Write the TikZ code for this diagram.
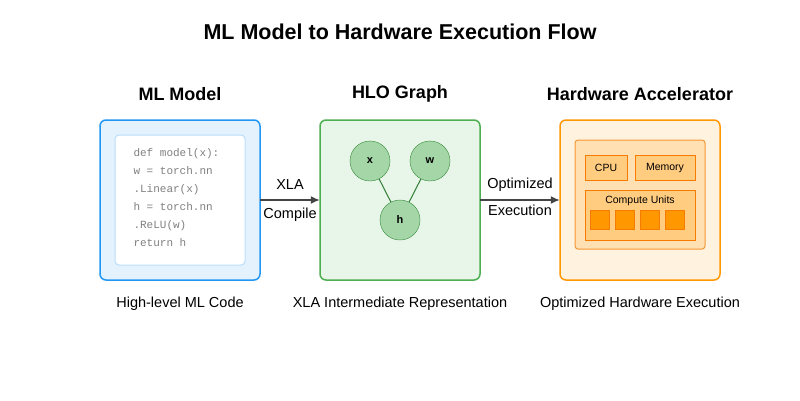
\documentclass[tikz,border=0pt]{standalone}
\usepackage{fontspec}
\setmainfont{Liberation Sans}
\newfontfamily\codefont{Liberation Mono}
\usetikzlibrary{arrows.meta}
\definecolor{bblue}{HTML}{2196F3}\definecolor{lblue}{HTML}{E3F2FD}\definecolor{mblue}{HTML}{BBDEFB}
\definecolor{bgreen}{HTML}{4CAF50}\definecolor{lgreen}{HTML}{E8F5E9}\definecolor{cgreen}{HTML}{A5D6A7}\definecolor{dgreen}{HTML}{2E7D32}
\definecolor{borange}{HTML}{FF9800}\definecolor{lorange}{HTML}{FFF3E0}\definecolor{morange}{HTML}{FFE0B2}\definecolor{corange}{HTML}{FFCC80}\definecolor{dorange}{HTML}{F57C00}
\definecolor{arr}{HTML}{444444}
\tikzset{
 panel/.style={rounded corners=6pt,line width=1.5pt},
 gnode/.style={circle,draw=dgreen!70!bgreen,fill=cgreen,minimum size=40pt,inner sep=0pt,font=\fontsize{11}{13}\selectfont\bfseries},
 obox/.style={draw=dorange,fill=corange,line width=0.8pt},
 sq/.style={draw=dorange,fill=borange,line width=0.8pt},
 code/.style={anchor=base west,text=gray,font=\codefont\fontsize{11}{13}\selectfont},
 hd/.style={font=\fontsize{18}{21}\selectfont\bfseries},
 captext/.style={font=\fontsize{14.5}{17}\selectfont},
 lbl/.style={font=\fontsize{14.5}{17}\selectfont},
 small/.style={font=\fontsize{10.5}{12}\selectfont},
 conn/.style={draw=arr,line width=1.5pt,-{Latex[length=9pt,width=8pt]}}
}
\begin{document}
\begin{tikzpicture}[x=1pt,y=-1pt]
\useasboundingbox[fill=white] (0,0) rectangle (800,400);
\node[font=\fontsize{21.5}{25}\selectfont\bfseries] (title) at (400,32) {ML Model to Hardware Execution Flow};
% ML model
\node[hd] (t1) at (180,94) {ML Model};
\draw[panel,draw=bblue,fill=lblue] (100,120) rectangle (260,280);
\node[minimum width=160pt,minimum height=160pt] (ml) at (180,200) {};
\draw[rounded corners=4pt,draw=mblue,fill=white,line width=1pt] (115,135) rectangle (245,265);
\node[code] (c1) at (130,156) {def model(x):};
\node[code] (c2) at (130,174) {w = torch.nn};
\node[code] (c3) at (130,192) {.Linear(x)};
\node[code] (c4) at (130,210) {h = torch.nn};
\node[code] (c5) at (130,228) {.ReLU(w)};
\node[code] (c6) at (130,246) {return h};
\node[captext] (cap1) at (180,304) {High-level ML Code};
% HLO
\node[hd] (t2) at (400,94) {HLO Graph};
\draw[panel,draw=bgreen,fill=lgreen] (320,120) rectangle (480,280);
\node[minimum width=160pt,minimum height=160pt] (hlo) at (400,200) {};
\node[gnode] (x) at (370,161) {x};
\node[gnode] (w) at (430,161) {w};
\node[gnode] (h) at (400,220) {h};
\draw[dgreen,line width=1pt] (x) -- (h) (w) -- (h);
\node[captext] (cap2) at (400,304) {XLA Intermediate Representation};
% Hardware
\node[hd] (t3) at (640,94) {Hardware Accelerator};
\draw[panel,draw=borange,fill=lorange] (560,120) rectangle (720,280);
\node[minimum width=160pt,minimum height=160pt] (hw) at (640,200) {};
\draw[rounded corners=3pt,draw=dorange!80,fill=morange,line width=1pt] (575,140) rectangle (705,249);
\draw[obox] (585,155) rectangle (627,180);
\node[small] (cpu) at (606,168) {CPU};
\draw[obox] (635,155) rectangle (695,180);
\node[small] (mem) at (665,168) {Memory};
\draw[obox] (585,190) rectangle (695,240);
\node[small] (cu) at (640,201) {Compute Units};
\foreach \i/\xx in {1/590,2/615,3/640,4/665}{\draw[sq] (\xx,210) rectangle ++(19,19);}
\node[captext] (cap3) at (640,304) {Optimized Hardware Execution};
% arrows
\draw[conn] (ml.east) -- (hlo.west);
\draw[conn] (hlo.east) -- (hw.west);
\node[lbl] (l1) at (290,185) {XLA};
\node[lbl] (l2) at (290,215) {Compile};
\node[lbl] (l3) at (520,185) {Optimized};
\node[lbl] (l4) at (520,210) {Execution};
\end{tikzpicture}
\end{document}
